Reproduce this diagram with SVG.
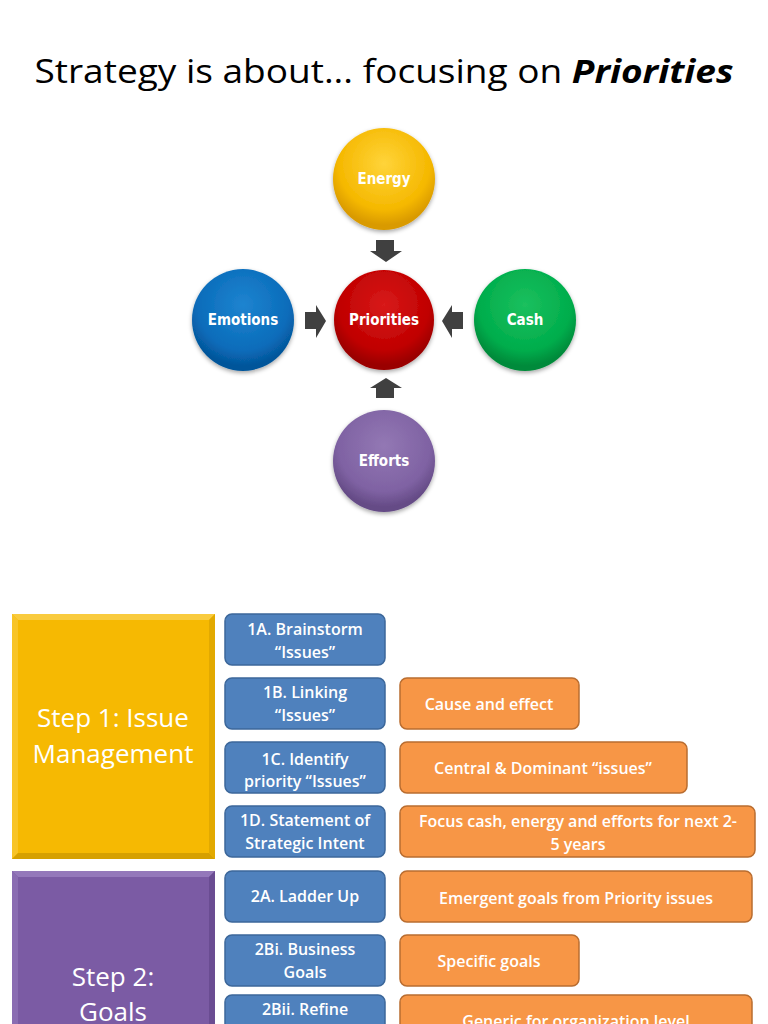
<svg xmlns="http://www.w3.org/2000/svg" width="768" height="1024" viewBox="0 0 768 1024">
<defs>
<style>
.title{font-family:"Open Sans","Liberation Sans",sans-serif;font-size:33px;fill:#000}
.clbl{font-family:"DejaVu Sans Condensed","DejaVu Sans",sans-serif;font-weight:bold;font-size:15px;fill:#fff;text-anchor:middle}
.blue{fill:#4F81BD;stroke:#3C679A;stroke-width:1.5}
.orange{fill:#F79646;stroke:#B96D30;stroke-width:1.5}
.btxt{font-family:"Open Sans","Liberation Sans",sans-serif;font-weight:600;font-size:16px;fill:#fff;text-anchor:middle}
.stxt{font-family:"Open Sans","Liberation Sans",sans-serif;font-size:26px;fill:#fff;text-anchor:middle}
.arr{fill:#404040}
</style>
<radialGradient id="gY" cx="0.5" cy="0.35" r="0.6"><stop offset="0" stop-color="#FFD43A"/><stop offset="0.75" stop-color="#F5B800"/><stop offset="1" stop-color="#D99A00"/></radialGradient>
<radialGradient id="gR" cx="0.5" cy="0.35" r="0.6"><stop offset="0" stop-color="#D81A1A"/><stop offset="0.75" stop-color="#C00000"/><stop offset="1" stop-color="#9A0000"/></radialGradient>
<radialGradient id="gB" cx="0.5" cy="0.35" r="0.6"><stop offset="0" stop-color="#1E84D0"/><stop offset="0.75" stop-color="#0A6CBA"/><stop offset="1" stop-color="#04559A"/></radialGradient>
<radialGradient id="gG" cx="0.5" cy="0.35" r="0.6"><stop offset="0" stop-color="#1BC05E"/><stop offset="0.75" stop-color="#00AD4C"/><stop offset="1" stop-color="#008A3A"/></radialGradient>
<radialGradient id="gP" cx="0.5" cy="0.35" r="0.6"><stop offset="0" stop-color="#9378B4"/><stop offset="0.75" stop-color="#7F62A3"/><stop offset="1" stop-color="#654B86"/></radialGradient>
<filter id="sh" x="-20%" y="-20%" width="140%" height="150%"><feDropShadow dx="0" dy="2" stdDeviation="2" flood-color="#000" flood-opacity="0.35"/></filter>
</defs>
<rect width="768" height="1024" fill="#fff"/>
<text class="title" x="384" y="83" text-anchor="middle" textLength="699" lengthAdjust="spacingAndGlyphs">Strategy is about... focusing on <tspan font-weight="bold" font-style="italic">Priorities</tspan></text>

<g id="connectors">
<polygon class="arr" points="376,240 394,240 394,251 402,251 386,262 370,251 376,251"/>
<polygon class="arr" points="305,312 316,312 316,305 326,321 316,338 316,329 305,329"/>
<polygon class="arr" points="463,312 452,312 452,305 442,321 452,338 452,329 463,329"/>
<polygon class="arr" points="376,398 394,398 394,388 402,388 386,378 370,388 376,388"/>
</g>

<g id="energy"><circle cx="384" cy="179" r="51" fill="url(#gY)" filter="url(#sh)"/><text class="clbl" x="384" y="184">Energy</text></g>
<g id="priorities"><circle cx="384" cy="320" r="50" fill="url(#gR)" filter="url(#sh)"/><text class="clbl" x="384" y="325">Priorities</text></g>
<g id="emotions"><circle cx="243" cy="320" r="51" fill="url(#gB)" filter="url(#sh)"/><text class="clbl" x="243" y="325">Emotions</text></g>
<g id="cash"><circle cx="525" cy="320" r="51" fill="url(#gG)" filter="url(#sh)"/><text class="clbl" x="525" y="325">Cash</text></g>
<g id="efforts"><circle cx="384" cy="461" r="51" fill="url(#gP)" filter="url(#sh)"/><text class="clbl" x="384" y="466">Efforts</text></g>

<g id="step1">
<rect x="12" y="614" width="203" height="245" fill="#F6B902"/>
<polygon points="12,614 215,614 209,620 18,620" fill="#F9CB3E"/>
<polygon points="12,614 18,620 18,853 12,859" fill="#F8C427"/>
<polygon points="12,859 18,853 209,853 215,859" fill="#D6A000"/>
<polygon points="215,614 215,859 209,853 209,620" fill="#E2A900"/>
<text class="stxt" x="113" y="727">Step 1: Issue</text>
<text class="stxt" x="113" y="763">Management</text>
</g>
<g id="step2">
<rect x="12" y="871" width="203" height="160" fill="#7B5BA4"/>
<polygon points="12,871 215,871 209,877 18,877" fill="#9478BA"/>
<polygon points="12,871 18,877 18,1031 12,1031" fill="#8A6CB2"/>
<polygon points="215,871 215,1031 209,1031 209,877" fill="#6A4C92"/>
<text class="stxt" x="113" y="986">Step 2:</text>
<text class="stxt" x="113" y="1021">Goals</text>
</g>

<g id="b1a"><rect class="blue" x="225" y="614" width="160" height="51" rx="7"/><text class="btxt" x="305" y="635">1A. Brainstorm</text><text class="btxt" x="305" y="658">“Issues”</text></g>
<g id="b1b"><rect class="blue" x="225" y="678" width="160" height="51" rx="7"/><text class="btxt" x="305" y="698">1B. Linking</text><text class="btxt" x="305" y="721">“Issues”</text></g>
<g id="b1c"><rect class="blue" x="225" y="742" width="160" height="51" rx="7"/><text class="btxt" x="305" y="765">1C. Identify</text><text class="btxt" x="305" y="787">priority “Issues”</text></g>
<g id="b1d"><rect class="blue" x="225" y="806" width="160" height="51" rx="7"/><text class="btxt" x="305" y="826">1D. Statement of</text><text class="btxt" x="305" y="849">Strategic Intent</text></g>
<g id="b2a"><rect class="blue" x="225" y="871" width="160" height="51" rx="7"/><text class="btxt" x="305" y="902">2A. Ladder Up</text></g>
<g id="b2bi"><rect class="blue" x="225" y="935" width="160" height="51" rx="7"/><text class="btxt" x="305" y="955">2Bi. Business</text><text class="btxt" x="305" y="978">Goals</text></g>
<g id="b2bii"><rect class="blue" x="225" y="995" width="160" height="51" rx="7"/><text class="btxt" x="305" y="1015">2Bii. Refine</text></g>

<g id="o1b"><rect class="orange" x="400" y="678" width="179" height="51" rx="7"/><text class="btxt" x="489" y="710">Cause and effect</text></g>
<g id="o1c"><rect class="orange" x="400" y="742" width="287" height="51" rx="7"/><text class="btxt" x="543" y="774">Central &amp; Dominant “issues”</text></g>
<g id="o1d"><rect class="orange" x="400" y="806" width="355" height="51" rx="7"/><text class="btxt" x="578" y="827">Focus cash, energy and efforts for next 2-</text><text class="btxt" x="578" y="850">5 years</text></g>
<g id="o2a"><rect class="orange" x="400" y="871" width="352" height="51" rx="7"/><text class="btxt" x="576" y="904">Emergent goals from Priority issues</text></g>
<g id="o2bi"><rect class="orange" x="400" y="935" width="179" height="51" rx="7"/><text class="btxt" x="489" y="967">Specific goals</text></g>
<g id="o2bii"><rect class="orange" x="400" y="995" width="352" height="51" rx="7"/><text class="btxt" x="576" y="1027">Generic for organization level</text></g>
</svg>
